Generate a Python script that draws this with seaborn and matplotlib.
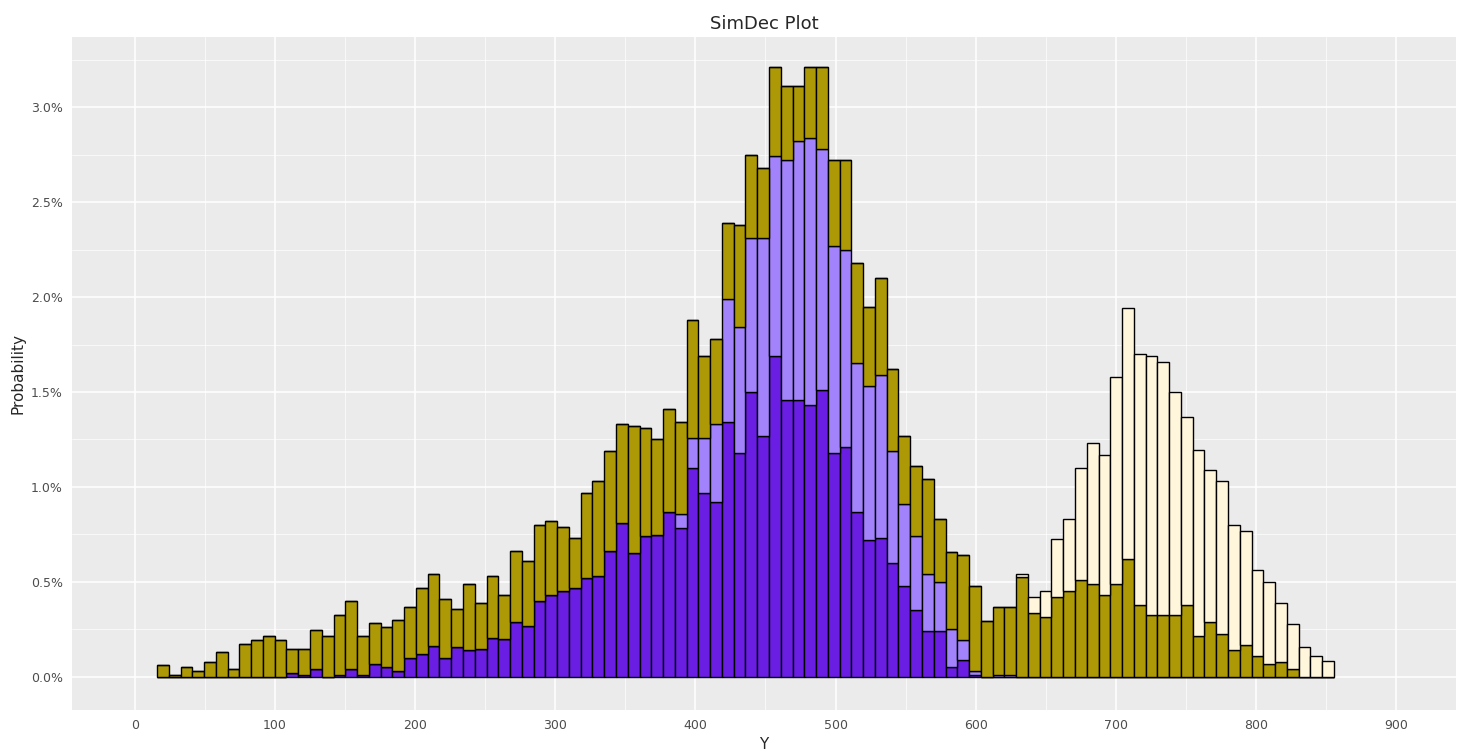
import numpy as np
import pandas as pd
import matplotlib
matplotlib.use("Agg")
import matplotlib.pyplot as plt
import seaborn as sns
from matplotlib.ticker import FuncFormatter, MultipleLocator

# bins
bin_start = 15.7
bin_width = 8.4
n_bins = 100

# cumulative tops of each stacked layer (in %)
purple_top = [0, 0, 0, 0, 0, 0, 0, 0, 0, 0, 0,
              .02, .01, .04, 0, .01, .04, .01, .068, .05, .03, .10, .12, .165, .10, .155, .14, .148,
              .205, .198, .29, .27, .40, .43, .45, .47, .52, .53, .665, .81, .65, .74, .745, .87,
              .786, 1.10, .967, .92, 1.34, 1.18, 1.50, 1.27, 1.69, 1.46, 1.46, 1.43, 1.51, 1.18, 1.21,
              .87, .72, .73, .60, .48, .35, .24, .24, .05, .09, .01,
              0, 0, 0, 0, 0, 0, 0, 0, 0, 0, 0, 0, 0, 0, 0, 0, 0, 0, 0, 0, 0, 0, 0, 0, 0, 0, 0, 0, 0, 0]
light_top = [0, 0, 0, 0, 0, 0, 0, 0, 0, 0, 0,
             .02, .01, .04, 0, .01, .04, .01, .068, .05, .03, .10, .12, .165, .10, .155, .14, .148,
             .205, .198, .29, .27, .40, .43, .45, .47, .52, .53, .665, .81, .65, .74, .745, .87,
             .855, 1.26, 1.26, 1.33, 1.99, 1.84, 2.31, 2.31, 2.74, 2.72, 2.82, 2.84, 2.78, 2.27, 2.25,
             1.65, 1.53, 1.59, 1.19, .91, .74, .54, .50, .25, .195, .03,
             0, .01, .01, 0, 0, 0, 0, 0, 0, 0, 0, 0, 0, 0, 0, 0, 0, 0, 0, 0, 0, 0, 0, 0, 0, 0, 0, 0, 0, 0]
olive_top = [.06, .01, .05, .03, .08, .13, .04, .175, .196, .216, .196,
             .146, .146, .247, .216, .328, .398, .216, .286, .265, .30, .367, .468, .54, .41, .355, .49, .387,
             .53, .43, .665, .61, .80, .82, .79, .73, .97, 1.03, 1.19, 1.33, 1.32, 1.31, 1.25, 1.41,
             1.34, 1.88, 1.69, 1.78, 2.39, 2.38, 2.75, 2.68, 3.21, 3.11, 3.11, 3.21, 3.21, 2.72, 2.72,
             2.18, 1.95, 2.10, 1.62, 1.27, 1.11, 1.04, .83, .655, .64, .48,
             .296, .367, .367, .527, .335, .317, .42, .45, .51, .49, .43, .49, .62, .377, .325, .325, .325,
             .377, .217, .29, .228, .14, .167, .112, .07, .08, .04, 0, 0, 0]
cream_top = [.06, .01, .05, .03, .08, .13, .04, .175, .196, .216, .196,
             .146, .146, .247, .216, .328, .398, .216, .286, .265, .30, .367, .468, .54, .41, .355, .49, .387,
             .53, .43, .665, .61, .80, .82, .79, .73, .97, 1.03, 1.19, 1.33, 1.32, 1.31, 1.25, 1.41,
             1.34, 1.88, 1.69, 1.78, 2.39, 2.38, 2.75, 2.68, 3.21, 3.11, 3.11, 3.21, 3.21, 2.72, 2.72,
             2.18, 1.95, 2.10, 1.62, 1.27, 1.11, 1.04, .83, .655, .64, .48,
             .296, .367, .367, .54, .42, .45, .728, .83, 1.10, 1.23, 1.17, 1.58, 1.94, 1.70, 1.69, 1.66, 1.50,
             1.37, 1.195, 1.09, 1.03, .80, .767, .56, .50, .388, .28, .156, .112, .083]

layers = ["purple", "light", "olive", "cream"]
colors = {"purple": "#6A1DE3", "light": "#A383FB", "olive": "#AD9905", "cream": "#FFF6DC"}

bin_end = bin_start + bin_width * n_bins
centers = bin_start + bin_width * (np.arange(n_bins) + 0.5)
tops = [np.array(purple_top), np.array(light_top), np.array(olive_top), np.array(cream_top)]
prev = np.zeros(n_bins)
rows = []
for name, top in zip(layers, tops):
    seg = np.clip(top - prev, 0, None)
    prev = np.maximum(prev, top)
    rows.append(pd.DataFrame({"Y": centers, "w": seg, "layer": name}))
df = pd.concat(rows, ignore_index=True)

sns.set_theme(style="darkgrid", rc={"axes.facecolor": "#EBEBEB", "grid.color": "white"})
plt.rcParams['font.family'] = ['DejaVu Sans']

fig = plt.figure(figsize=(14.68, 7.52), dpi=100)
ax = fig.add_axes([0.049, 0.056, 0.943, 0.895])
sns.histplot(data=df, x="Y", weights="w", hue="layer",
             hue_order=["cream", "olive", "light", "purple"], palette=colors,
             bins=n_bins, binrange=(bin_start, bin_end), multiple="stack", alpha=1,
             edgecolor="black", linewidth=1, legend=False, ax=ax)

ax.set_xlim(-45, 943)
ax.set_ylim(-0.174, 3.37)
ax.xaxis.set_major_locator(MultipleLocator(100))
ax.xaxis.set_minor_locator(MultipleLocator(50))
ax.yaxis.set_major_locator(MultipleLocator(0.5))
ax.yaxis.set_minor_locator(MultipleLocator(0.25))
ax.yaxis.set_major_formatter(FuncFormatter(lambda v, p: f"{v:.1f}%"))
ax.grid(which="major", color="white", linewidth=1.1)
ax.grid(which="minor", color="white", linewidth=0.5)
ax.tick_params(axis="both", which="major", labelsize=9, colors="#4D4D4D", length=3)
ax.set_xlabel("Y", fontsize=11)
ax.set_ylabel("Probability", fontsize=11)
ax.set_title("SimDec Plot", fontsize=13)
for s in ax.spines.values():
    s.set_visible(False)
fig.savefig("out.png", dpi=100)
